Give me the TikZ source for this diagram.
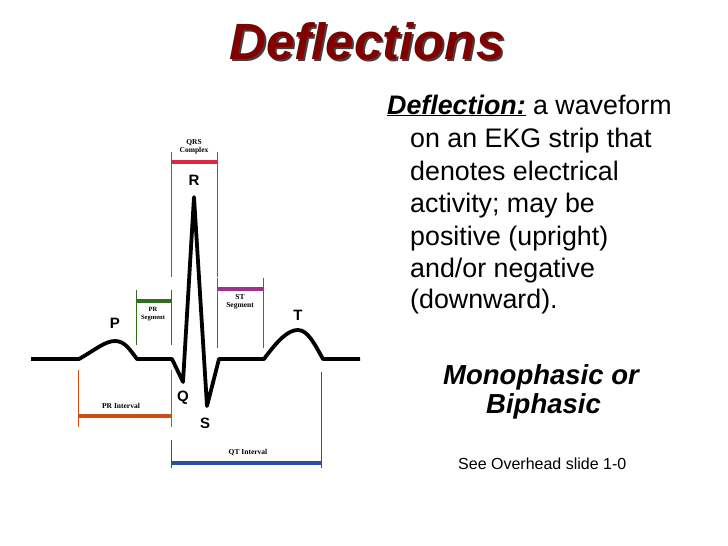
\documentclass[tikz,border=0pt]{standalone}
\usepackage{fontspec}
\setmainfont{Liberation Sans}
\newfontfamily\serifx{Liberation Serif}
\definecolor{ttl}{RGB}{128,0,0}
\definecolor{qrsc}{RGB}{220,40,70}
\definecolor{prsc}{RGB}{50,110,30}
\definecolor{stc}{RGB}{160,50,140}
\definecolor{pric}{RGB}{200,80,20}
\definecolor{qtc}{RGB}{40,80,160}
\newcommand{\shadowtext}[1]{\makebox[0pt][l]{\raisebox{-2pt}{\hspace{2pt}\textcolor{black!75}{#1}}}\textcolor{ttl}{#1}}
\begin{document}
\begin{tikzpicture}[x=1pt,y=-1pt,
  lbl/.style={font=\bfseries\fontsize{15}{15}\selectfont},
  small/.style={font=\serifx\bfseries\fontsize{7.5}{8.5}\selectfont,align=center,inner sep=0},
  bar/.style={line width=3.5pt},
  tick/.style={line width=0.5pt},
  body/.style={anchor=base west,inner sep=0,font=\fontsize{26.8}{26.8}\selectfont}]
\useasboundingbox (0,0) rectangle (728,546);
% title
\node[font=\bfseries\itshape\fontsize{51}{51}\selectfont] (title) at (367,42) {\shadowtext{Deflections}};
% ECG
\draw[line width=3.8pt,line join=round] (31,359) -- (79,359)
  .. controls (95,350) and (105,341) .. (115,341) .. controls (125,341) and (130,350) .. (137,359)
  -- (172,359) -- (183,382) -- (194,197) -- (207,406) -- (219,359) -- (264,359)
  .. controls (278,340) and (288,330) .. (298,330) .. controls (308,330) and (315,345) .. (323,359) -- (360,359);
% QRS
\draw[qrsc,tick] (171,152) -- (171,277) (217,152) -- (217,277);
\draw[qrsc,bar] (171,162) -- (217,162);
\node[small] (qrs) at (194,147) {QRS\\Complex};
% PR segment
\draw[prsc,tick] (136,290) -- (136,345) (171,290) -- (171,345);
\draw[prsc,bar] (136,301) -- (171,301);
\node[small,font=\serifx\bfseries\fontsize{6.5}{7.5}\selectfont] (prs) at (153,314) {PR\\Segment};
% ST segment
\draw[stc,tick] (217,278) -- (217,348) (263,278) -- (263,348);
\draw[stc,bar] (217,289) -- (263,289);
\node[small] (sts) at (240,302) {ST\\Segment};
% PR interval
\draw[pric,tick] (78,370) -- (78,427) (171,370) -- (171,427);
\draw[pric,bar] (78,416) -- (171,416);
\node[small] (pri) at (121,406) {PR Interval};
% QT interval
\draw[qtc,tick] (171,440) -- (171,468) (321,372) -- (321,468);
\draw[qtc,bar] (171,463) -- (321,463);
\node[small] (qti) at (248,452) {QT Interval};
% wave labels
\node[lbl] (R) at (194,180) {R};
\node[lbl] (P) at (115,323) {P};
\node[lbl] (T) at (298,315) {T};
\node[lbl] (Q) at (183,398) {Q};
\node[lbl] (S) at (205,423) {S};
% text
\node[body] (l1) at (387,114) {\textbf{\textit{\underline{Deflection:}}} a waveform};
\node[body] (l2) at (410,147) {on an EKG strip that};
\node[body] (l3) at (410,180) {denotes electrical};
\node[body] (l4) at (410,212) {activity; may be};
\node[body] (l5) at (410,245) {positive (upright)};
\node[body] (l6) at (410,277) {and/or negative};
\node[body] (l7) at (410,308) {(downward).};
\node[body,font=\bfseries\itshape\fontsize{27.5}{27.5}\selectfont] (m1) at (443,384) {Monophasic or};
\node[body,font=\bfseries\itshape\fontsize{27.5}{27.5}\selectfont] (m2) at (486,413) {Biphasic};
\node[body,font=\fontsize{16}{16}\selectfont] (ov) at (458,469) {See Overhead slide 1-0};
\end{tikzpicture}
\end{document}
